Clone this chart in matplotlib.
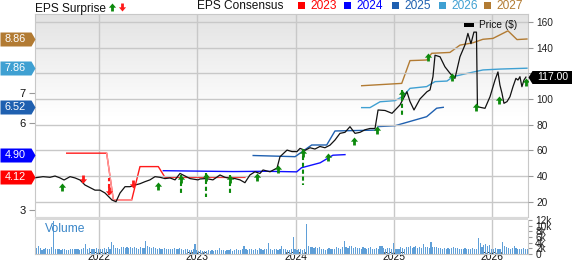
import numpy as np
import matplotlib
matplotlib.use("Agg")
import matplotlib.pyplot as plt
from matplotlib.path import Path
from matplotlib.lines import Line2D
from matplotlib.patches import Rectangle
from matplotlib.colors import LinearSegmentedColormap
from matplotlib.transforms import blended_transform_factory

plt.rcParams["font.family"] = ["Liberation Sans", "DejaVu Sans"]

# ---- data (dates as decimal years) ----
price_dates = [2021.356, 2021.428, 2021.499, 2021.550, 2021.601, 2021.642, 2021.703, 2021.754,
               2021.804, 2021.855, 2021.906, 2021.957, 2022.008, 2022.059, 2022.130, 2022.171,
               2022.212, 2022.263, 2022.314, 2022.365, 2022.415, 2022.466, 2022.517, 2022.568,
               2022.619, 2022.670, 2022.721, 2022.772, 2022.823, 2022.874, 2022.925, 2023.006,
               2023.026, 2023.087, 2023.158, 2023.230, 2023.281, 2023.332, 2023.383, 2023.434,
               2023.484, 2023.535, 2023.586, 2023.637, 2023.668, 2023.739, 2023.811, 2023.841,
               2023.913, 2023.963, 2024.014, 2024.045, 2024.096, 2024.147, 2024.197, 2024.248,
               2024.299, 2024.350, 2024.401, 2024.452, 2024.503, 2024.554, 2024.605, 2024.656,
               2024.707, 2024.758, 2024.809, 2024.840, 2024.911, 2024.982, 2025.063, 2025.134,
               2025.165, 2025.206, 2025.267, 2025.338, 2025.369, 2025.399, 2025.420, 2025.471,
               2025.521, 2025.572, 2025.623, 2025.674, 2025.725, 2025.755, 2025.786, 2025.816,
               2025.842, 2025.852, 2025.878, 2025.929, 2025.980, 2026.031, 2026.061, 2026.081,
               2026.102, 2026.122, 2026.153, 2026.183, 2026.214, 2026.244, 2026.265, 2026.285,
               2026.305, 2026.326, 2026.346]
price_vals = [38.7, 39.5, 39.0, 40.0, 38.5, 36.9, 39.5, 38.5,
              36.9, 33.0, 31.0, 29.0, 29.0, 26.8, 21.3, 20.0,
              26.8, 31.7, 31.7, 33.0, 34.0, 35.6, 37.0, 39.5,
              39.0, 38.0, 38.5, 37.0, 42.0, 40.0, 38.0, 37.0,
              37.7, 38.0, 37.0, 40.8, 39.0, 38.2, 38.0, 37.0,
              34.8, 40.8, 43.3, 42.0, 44.7, 43.3, 46.2, 55.0,
              60.2, 59.0, 59.0, 61.5, 60.0, 62.0, 61.0, 63.0,
              62.0, 64.0, 68.0, 73.2, 74.0, 78.4, 73.2, 74.0,
              76.0, 77.0, 77.0, 91.4, 91.0, 88.8, 95.3, 105.6,
              98.0, 91.4, 100.0, 105.6, 107.0, 117.3, 134.0, 132.8,
              125.0, 120.0, 116.0, 132.8, 142.0, 151.0, 143.0, 152.0,
              152.0, 94.0, 93.5, 92.7, 101.7, 114.7, 121.0, 110.8,
              104.4, 96.6, 97.9, 101.7, 109.5, 116.0, 114.7, 117.3,
              109.5, 114.7, 117.0]

eps23_dates = [2021.669, 2022.076, 2022.144, 2022.331, 2022.415, 2022.602, 2022.670, 2023.484]
eps23_vals = [4.95, 4.95, 3.35, 3.35, 4.49, 4.49, 4.12, 4.12]
eps24_dates = [2022.653, 2023.363, 2023.700, 2024.011, 2024.060, 2024.250, 2024.380, 2024.503]
eps24_vals = [4.35, 4.32, 4.33, 4.31, 4.45, 4.62, 4.88, 4.90]
eps25_dates = [2023.568, 2023.995, 2024.164, 2024.317, 2024.401, 2024.826, 2024.840, 2025.013,
               2025.335, 2025.437, 2025.504]
eps25_vals = [4.87, 4.83, 5.23, 5.23, 5.71, 5.74, 5.86, 5.89, 6.20, 6.49, 6.52]
eps26_dates = [2024.673, 2024.758, 2024.860, 2025.013, 2025.094, 2025.165, 2025.335, 2025.420,
               2025.542, 2025.603, 2025.745, 2025.908, 2026.081, 2026.356]
eps26_vals = [6.51, 6.51, 6.71, 6.75, 6.90, 7.17, 7.23, 7.40, 7.42, 7.57, 7.68, 7.80, 7.83, 7.86]
eps27_dates = [2024.673, 2025.081, 2025.165, 2025.335, 2025.386, 2025.572, 2025.674, 2025.806,
               2025.908, 2026.010, 2026.163, 2026.255, 2026.356]
eps27_vals = [7.26, 7.34, 8.12, 8.14, 8.37, 8.40, 8.65, 8.73, 8.85, 8.88, 9.14, 8.84, 8.86]

surprise_dates = [2021.624, 2021.838, 2022.101, 2022.342, 2022.602, 2022.833, 2023.088, 2023.332,
                  2023.604, 2023.818, 2024.075, 2024.333, 2024.595, 2024.826, 2025.087, 2025.352,
                  2025.597, 2025.837, 2026.071, 2026.350]
surprise_tip = [34.3, 34.3, 25.2, 30.7, 35.6, 40.8, 42.6, 40.8,
                42.6, 48.6, 61.0, 58.1, 70.6, 78.9, 106.9, 135.5,
                120.4, 96.6, 102.3, 116.0]
surprise_up = [True, False, False, False, True, True, True, True,
               True, True, True, True, True, True, True, True,
               True, True, True, True]
surprise_dash = [None, 37.5, 38.4, None, None, 26.5, 23.9, 26.5,
                 None, None, 33.0, None, None, None, 87.5, None,
                 None, None, None, None]

vol_start = 2021.36
volume_k = [2.2, 2.9, 2.0, 1.5, 1.8, 2.0, 1.6, 1.9, 2.3, 11.7,
            1.8, 1.6, 1.7, 1.5, 1.6, 1.7, 1.5, 1.4, 1.8, 1.6,
            1.7, 1.9, 1.6, 1.5, 1.9, 2.1, 3.5, 1.9, 2.0, 1.8,
            1.6, 1.8, 2.2, 1.9, 1.7, 1.6, 2.0, 1.8, 2.6, 1.7,
            4.1, 3.2, 2.0, 2.2, 1.9, 2.5, 2.3, 2.0, 2.4, 2.1,
            2.3, 2.0, 2.6, 2.2, 1.9, 2.4, 2.2, 2.0, 4.6, 3.0,
            2.5, 2.2, 2.6, 2.0, 1.8, 2.2, 1.9, 1.7, 2.0, 1.8,
            1.6, 1.9, 1.7, 2.1, 1.8, 1.6, 2.0, 1.9, 1.5, 1.8,
            1.7, 1.5, 1.4, 1.6, 3.4, 1.5, 1.2, 1.3, 1.1, 1.2,
            1.0, 1.3, 1.2, 1.5, 1.1, 1.3, 1.4, 2.2, 1.4, 1.3,
            1.2, 1.5, 1.3, 1.6, 1.2, 1.4, 1.8, 1.5, 1.3, 1.6,
            2.9, 1.6, 1.4, 1.8, 1.9, 1.5, 1.7, 1.4, 2.0, 1.6,
            1.5, 1.8, 1.6, 4.0, 1.7, 1.5, 1.6, 1.9, 1.5, 1.7,
            2.8, 1.6, 1.8, 1.5, 1.4, 1.7, 5.9, 1.6, 1.5, 1.7,
            1.6, 1.5, 1.8, 10.7, 2.8, 2.4, 2.6, 2.2, 2.5, 2.0,
            2.3, 1.6, 1.8, 1.5, 1.9, 2.0, 1.7, 1.6, 1.9, 2.3,
            2.2, 1.8, 2.6, 4.6, 2.4, 2.1, 2.8, 3.0, 2.2, 2.5,
            2.0, 2.2, 1.8, 2.3, 2.1, 1.7, 2.0, 2.4, 1.9, 1.8,
            2.2, 1.9, 2.9, 2.7, 2.1, 1.8, 2.0, 2.2, 1.9, 3.8,
            1.6, 1.8, 1.7, 2.3, 2.0, 1.9, 2.6, 2.3, 2.8, 2.1,
            2.4, 2.9, 2.2, 2.5, 2.0, 3.4, 2.6, 2.4, 2.2, 4.4,
            2.6, 2.3, 2.5, 2.1, 2.0, 1.8, 2.2, 1.9, 2.1, 1.8,
            2.0, 2.5, 2.2, 2.0, 1.7, 1.9, 1.6, 2.0, 1.8, 1.6,
            1.9, 2.0, 1.7, 1.8, 5.5, 3.9, 2.6, 3.1, 3.5, 2.8,
            3.1, 1.8, 1.7, 2.0, 1.6, 1.9, 1.8, 4.1, 2.7, 2.4,
            2.2, 1.8, 2.0, 3.0, 2.2, 1.7, 1.9, 1.6, 2.0, 1.8, 1.9]

years = [2022, 2023, 2024, 2025, 2026]
legend_years = ["2023", "2024", "2025", "2026", "2027"]
eps_colors = ["#ff1a1a", "#1010ff", "#1f60b0", "#3fa0d2", "#b27b33"]
eps_tags = [8.86, 7.86, 6.52, 4.90, 4.12]
eps_tag_colors = ["#b27b33", "#3fa0d2", "#1f60b0", "#0000ff", "#ff0000"]
last_price = 117.00
price_ticks = [20, 40, 60, 80, 100, 120, 140, 160]

W, H = 572, 264
def fx(x):
    return x / W
def fy(y):
    return 1 - y / H

up_arrow = Path([(0, 0), (3.6, -4.2), (1.4, -4.2), (1.4, -8), (-1.4, -8), (-1.4, -4.2), (-3.6, -4.2), (0, 0)])
down_arrow = Path([(0, 0), (3.6, 4.2), (1.4, 4.2), (1.4, 8), (-1.4, 8), (-1.4, 4.2), (-3.6, 4.2), (0, 0)])
left_tag = Path([(0, 0), (-4, 7), (-35, 7), (-35, -7), (-4, -7), (0, 0)])
right_tag = Path([(0, 0), (4, 6.5), (45, 6.5), (45, -6.5), (4, -6.5), (0, 0)])
px2pt = 72 / 100

fig = plt.figure(figsize=(5.72, 2.64), dpi=100)
x0, x1 = 35, 528
ax_eps = fig.add_axes([fx(x0), fy(217), fx(x1 - x0), (217 - 14) / H])
ax = ax_eps.twinx()
ax_v = fig.add_axes([fx(x0), fy(254), fx(x1 - x0), (254 - 219.5) / H])

xlim = (2021.346, 2026.367)

# background gradient
bg = LinearSegmentedColormap.from_list("bg", ["#ffffff", "#ffffff", "#e3e3e3"])
ax_eps.imshow(np.linspace(0, 1, 200).reshape(-1, 1), cmap=bg, origin="lower", aspect="auto",
              extent=[0, 1, 0, 1], transform=ax_eps.transAxes, zorder=0)

# EPS consensus lines
for d, v, c in zip([eps23_dates, eps24_dates, eps25_dates, eps26_dates, eps27_dates],
                   [eps23_vals, eps24_vals, eps25_vals, eps26_vals, eps27_vals], eps_colors):
    ax_eps.plot(d, v, color=c, lw=1.0, zorder=3)
ax_eps.plot(eps23_dates[1:4], eps23_vals[1:4], color="#ff9a9a", lw=1.0, zorder=3)

ax_eps.set_xlim(xlim)
ax_eps.set_ylim(2.764, 9.716)
ax_eps.set_yticks([3, 6, 7])
ax_eps.set_yticklabels(["3", "6", "7"])
ax_eps.tick_params(axis="y", length=4, width=0.8, color="#999999", labelsize=8, pad=2.5, labelcolor="#111111")
ax_eps.set_xticks(years)
ax_eps.tick_params(axis="x", length=0, labelbottom=False)
ax_eps.grid(axis="x", color="#c8c8c8", lw=1)
for s in ax_eps.spines.values():
    s.set_color("#c8c8c8")

# price
ax.plot(price_dates, price_vals, color="#111111", lw=0.9, zorder=4)
ax.set_ylim(8.1, 166.1)
ax.set_xlim(xlim)
ax.set_yticks(price_ticks)
# the 120 label sits under the last-price tag
ax.set_yticklabels(["" if t == 120 else str(t) for t in price_ticks])
ax.tick_params(axis="y", length=3.6, width=0.8, color="#999999", labelsize=7.3, pad=2.5, labelcolor="#222222")
ax.grid(axis="y", color="#c8c8c8", lw=1, zorder=0)
for s in ax.spines.values():
    s.set_visible(False)

# surprise arrows and dashes
for d, tip, up, dash in zip(surprise_dates, surprise_tip, surprise_up, surprise_dash):
    col = "#0d8a0d" if up else "#ff1a1a"
    if dash is not None:
        ax.plot([d, d], [tip, dash], color=col, lw=1.5, ls=(0, (2, 1.3)), zorder=5)
    ax.plot([d], [tip], marker=up_arrow if up else down_arrow, markersize=11.5,
            color=col, markeredgewidth=0, zorder=6)

# left EPS tags
blend_l = blended_transform_factory(ax_eps.transAxes, ax_eps.transData)
for v, c in zip(eps_tags, eps_tag_colors):
    ax_eps.plot([0], [v], marker=left_tag, markersize=35 * 2 * px2pt, color=c,
                markeredgewidth=0, transform=blend_l, clip_on=False, zorder=10)
    ax_eps.annotate(f"{v:.2f}", xy=(0, v), xycoords=blend_l, xytext=(-20 * px2pt, 0),
                    textcoords="offset points", ha="center", va="center",
                    color="white", fontsize=7.8, zorder=11, annotation_clip=False)

# right price tag
blend_r = blended_transform_factory(ax.transAxes, ax.transData)
ax.plot([1], [last_price], marker=right_tag, markersize=45 * 2 * px2pt, color="black",
        markeredgewidth=0, transform=blend_r, clip_on=False, zorder=10)
ax.annotate(f"{last_price:.2f}", xy=(1, last_price), xycoords=blend_r, xytext=(25 * px2pt, 0),
            textcoords="offset points", ha="center", va="center", color="white",
            fontsize=7.5, zorder=11, annotation_clip=False)

# volume
vol_dates = vol_start + np.arange(len(volume_k)) / 52.0
ax_v.bar(vol_dates, volume_k, width=0.012, color="#5f9fd8", zorder=2)
ax_v.set_xlim(xlim)
ax_v.set_ylim(0, 12.2)
ax_v.set_xticks(years)
ax_v.set_xticklabels([str(y) for y in years])
ax_v.tick_params(axis="x", length=0, labelsize=7.4, pad=-1.1, labelcolor="#111111")
ax_v.yaxis.tick_right()
ax_v.set_yticks([0, 2, 4, 6, 8, 10, 12])
ax_v.set_yticklabels(["0", "2k", "4k", "6k", "8k", "10k", "12k"])
ax_v.tick_params(axis="y", length=3.2, width=0.8, color="#999999", labelsize=7.3, pad=2,
                 labelcolor="#222222")
ax_v.grid(axis="x", color="#c8c8c8", lw=1, zorder=0)
ax_v.spines["top"].set_visible(False)
for k in ["left", "right", "bottom"]:
    ax_v.spines[k].set_color("#c8c8c8")
fig.text(fx(45), fy(229), "Volume", color="#3a86c8", fontsize=8.7, va="center", ha="left")

# separator band
fig.patches.append(Rectangle((fx(x0), fy(219.5)), fx(x1 - x0), 2.5 / H, transform=fig.transFigure,
                             facecolor="#d9d9d9", edgecolor="none"))

# legend row
fig.text(fx(35), fy(11.7), "EPS Surprise", fontsize=8.6, ha="left", va="baseline", color="#111111")
fig.add_artist(Line2D([fx(111.5)], [fy(2.7)], marker=up_arrow, markersize=11.5, color="#0d8a0d",
                      markeredgewidth=0, transform=fig.transFigure))
fig.add_artist(Line2D([fx(122)], [fy(10.7)], marker=down_arrow, markersize=11.5, color="#ff1a1a",
                      markeredgewidth=0, transform=fig.transFigure))
fig.text(fx(197), fy(9.3), "EPS Consensus", fontsize=8.6, ha="left", va="baseline", color="#111111")
text_x = [310.7, 356.7, 404.5, 451, 496.7]
for tx, lab, c in zip(text_x, legend_years, eps_tag_colors[::-1]):
    fig.add_artist(Line2D([fx(tx - 9.5)], [fy(5.3)], marker="s", markersize=7 * px2pt, color=c,
                          markeredgewidth=0, transform=fig.transFigure))
    fig.text(fx(tx), fy(9.3), lab, fontsize=8.6, ha="left", va="baseline", color=c)

# price legend
fig.patches.append(Rectangle((fx(464), fy(26.7)), fx(10), 4 / H, transform=fig.transFigure,
                             facecolor="black", edgecolor="none"))
fig.text(fx(479), fy(25), "Price ($)", fontsize=7.3, ha="left", va="center", color="#111111")

fig.savefig("out.png", dpi=100)
